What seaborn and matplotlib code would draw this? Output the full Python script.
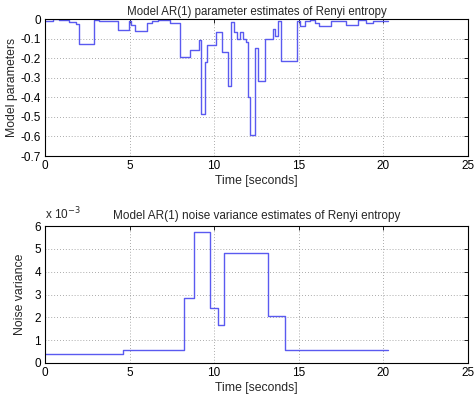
import numpy as np
import pandas as pd
import matplotlib
matplotlib.use("Agg")
import matplotlib.pyplot as plt
import seaborn as sns

# ---- data: step-change times [s] and AR(1) parameter values ----
param_t = [0.0, 0.5, 0.8, 1.4, 1.85, 2.0, 2.9, 3.2, 3.6, 4.33, 4.98, 5.1, 5.3,
           6.0, 6.3, 6.7, 7.4, 7.97, 8.6, 9.1, 9.25, 9.45, 9.6, 10.1, 10.45,
           10.8, 11.0, 11.2, 11.35, 11.55, 11.7, 11.9, 12.0, 12.1, 12.4, 12.6,
           13.0, 13.45, 13.6, 13.8, 13.95, 14.9, 15.05, 15.4, 15.65, 15.95,
           16.2, 16.9, 17.1, 17.8, 18.5, 19.0, 19.4, 19.7, 20.3]
param_v = [-0.01, -0.002, -0.005, -0.015, -0.025, -0.125, -0.005, -0.01,
           -0.008, -0.055, -0.01, -0.03, -0.06, -0.02, -0.01, -0.005, -0.02,
           -0.195, -0.16, -0.105, -0.485, -0.22, -0.13, -0.065, -0.17, -0.34,
           -0.015, -0.065, -0.1, -0.065, -0.1, -0.115, -0.4, -0.59, -0.15,
           -0.315, -0.1, -0.05, -0.085, -0.01, -0.215, -0.01, -0.035, -0.01,
           -0.005, -0.02, -0.035, -0.01, -0.012, -0.03, -0.005, -0.02, -0.01,
           -0.01, -0.01]

# noise variance (units of 1e-3)
noise_t = [0.0, 4.6, 8.2, 8.8, 9.75, 10.25, 10.6, 13.2, 14.2, 20.3]
noise_v = [0.38, 0.55, 2.85, 5.75, 2.4, 1.65, 4.8, 2.05, 0.55, 0.55]

top_title = "Model AR(1) parameter estimates of Renyi entropy"
bot_title = "Model AR(1) noise variance estimates of Renyi entropy"
xlabel = "Time [seconds]"
top_ylabel = "Model parameters"
bot_ylabel = "Noise variance"
xticks = [0, 5, 10, 15, 20, 25]
top_yticks = [0, -0.1, -0.2, -0.3, -0.4, -0.5, -0.6, -0.7]
top_yticklabels = ["0", "-0.1", "-0.2", "-0.3", "-0.4", "-0.5", "-0.6", "-0.7"]
bot_yticks = [0, 1, 2, 3, 4, 5, 6]

sns.set_style("white")
plt.rcParams['font.family'] = ['Liberation Sans', 'DejaVu Sans']
plt.rcParams['font.size'] = 8.5

line_color = "#5a5af0"

fig = plt.figure(figsize=(4.74, 3.98), dpi=100)
ax1 = fig.add_axes([0.095, 0.608, 0.892, 0.344])
ax2 = fig.add_axes([0.095, 0.088, 0.892, 0.344])

df1 = pd.DataFrame({"t": param_t, "v": param_v})
df2 = pd.DataFrame({"t": noise_t, "v": noise_v})

sns.lineplot(data=df1, x="t", y="v", ax=ax1, drawstyle="steps-post",
             color=line_color, linewidth=1.0)
sns.lineplot(data=df2, x="t", y="v", ax=ax2, drawstyle="steps-post",
             color=line_color, linewidth=1.0)

for ax in (ax1, ax2):
    ax.set_xlim(0, 25)
    ax.set_xticks(xticks)
    ax.set_xticklabels([str(x) for x in xticks])
    ax.grid(True, linestyle=(0, (1, 2.5)), color="#909090", linewidth=0.6)
    ax.tick_params(direction="in", length=3, width=0.6, colors="black",
                   labelsize=8.5, pad=3, top=True, right=True)
    for s in ax.spines.values():
        s.set_color("black")
        s.set_linewidth(0.8)
    ax.set_xlabel(xlabel, fontsize=8.8, labelpad=2)

ax1.set_ylim(-0.7, 0)
ax1.set_yticks(top_yticks)
ax1.set_yticklabels(top_yticklabels)
ax1.set_ylabel(top_ylabel, fontsize=8.8, labelpad=2)
ax1.set_title(top_title, fontsize=8.3, pad=3)

ax2.set_ylim(0, 6)
ax2.set_yticks(bot_yticks)
ax2.set_yticklabels([str(y) for y in bot_yticks])
ax2.set_ylabel(bot_ylabel, fontsize=8.8, labelpad=6)
ax2.set_title(bot_title, fontsize=8.5, pad=5)
ax2.text(0.0, 1.03, "x 10$^{-3}$", transform=ax2.transAxes, fontsize=8.5,
         ha="left", va="bottom")

fig.savefig("out.png", dpi=100)
